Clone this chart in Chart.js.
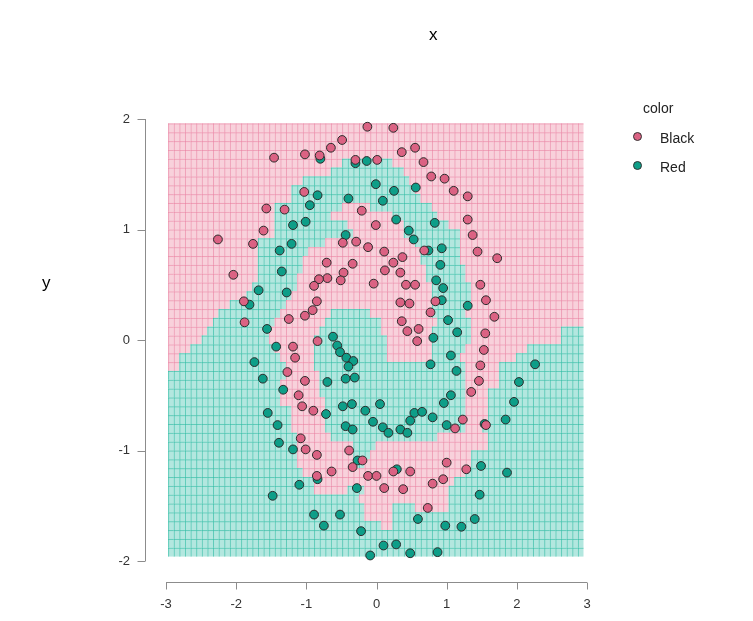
<!DOCTYPE html>
<html>
<head>
<meta charset="utf-8">
<script src="https://cdn.jsdelivr.net/npm/chart.js@4.4.0/dist/chart.umd.min.js"></script>
<style>
body { margin: 0; background: #fff; font-family: "Liberation Sans", Arial, sans-serif; }
#wrap { position: relative; width: 753px; height: 621px; }
#myChart { position: absolute; left: 0; top: 0; }
.txt { position: absolute; line-height: 1; color: #000; white-space: nowrap; }
.dot { position: absolute; width: 7px; height: 7px; border-radius: 50%; border: 1px solid #333; box-sizing: content-box; }
</style>
</head>
<body>
<div id="wrap">
	<canvas id="myChart" width="753" height="621"></canvas>
	<div class="txt" style="left:429px;top:26px;font-size:17px">x</div>
	<div class="txt" style="left:42px;top:274px;font-size:17px">y</div>
	<div class="txt" style="left:643px;top:101px;font-size:14px;color:#222">color</div>
	<div class="dot" style="left:633px;top:132px;background:#DB6283"></div>
	<div class="txt" style="left:660px;top:131px;font-size:14px;color:#222">Black</div>
	<div class="dot" style="left:633px;top:161px;background:#0E9E88"></div>
	<div class="txt" style="left:660px;top:160px;font-size:14px;color:#222">Red</div>
</div>
<script>
// points
var blackX = [-1.46,-1.02,-1.03,-1.57,-1.31,-1.61,-2.26,-1.76,-2.04,-1.89,-1.88,-1.25,-1.02,-1.19,-1.16,-1.27,-1.02,-1.11,-1.06,-1.08,-1.01,
	-0.13,0.24,-0.49,-0.65,-0.81,0.36,0.55,-0.30,0.01,0.67,0.78,0.97,-0.21,-0.01,-0.48,-0.29,-0.12,0.11,0.37,0.24,0.68,-0.71,-0.34,-0.47,0.12,0.34,
	-0.70,-0.82,-0.51,-0.89,-0.04,0.42,0.55,-0.85,0.34,0.47,0.84,-0.91,0.77,0.36,0.44,0.60,0.58,-0.84,-0.90,-0.85,-0.39,-0.20,-0.34,-0.64,-0.85,
	-0.12,0.00,0.24,0.48,0.11,0.38,0.80,0.95,1.00,0.73,1.10,1.30,1.30,1.37,1.44,1.72,1.48,1.56,1.68,1.55,1.53,1.48,1.46,1.35,1.23,1.12,1.56,1.28];
var blackY = [1.65,1.68,1.34,1.19,1.18,0.99,0.91,0.87,0.59,0.35,0.16,0.19,0.22,-0.06,-0.16,-0.29,-0.37,-0.50,-0.60,-0.89,-0.99,
	1.93,1.92,1.81,1.74,1.67,1.70,1.74,1.63,1.63,1.61,1.48,1.46,1.17,1.04,0.88,0.89,0.84,0.80,0.75,0.70,0.81,0.70,0.69,0.61,0.63,0.61,
	0.56,0.55,0.54,0.49,0.51,0.50,0.50,0.35,0.34,0.33,0.35,0.27,0.25,0.17,0.08,0.10,-0.01,-0.01,-0.64,-1.04,-1.00,-1.09,-1.15,-1.19,-1.23,
	-1.23,-1.23,-1.19,-1.19,-1.34,-1.35,-1.30,-1.26,-1.11,-1.52,1.35,1.30,1.09,0.95,0.80,0.74,0.50,0.36,0.21,0.06,-0.09,-0.23,-0.37,-0.47,-0.72,-0.80,-0.77,-1.17];

var redX = [-0.95,-1.01,-1.19,-1.21,-1.38,-1.35,-1.68,-1.28,-1.81,-1.56,-1.43,-1.74,-1.62,-1.33,-1.55,-1.41,-1.39,-1.19,-1.10,-1.48,
	-0.80,-0.30,-0.14,-0.01,0.25,0.56,-0.84,-0.40,0.09,0.28,0.83,-0.44,0.46,0.53,0.74,0.93,0.91,0.85,0.95,0.93,1.02,0.81,-0.62,-0.56,-0.52,
	-0.43,-0.33,-0.40,-0.44,-0.31,-0.70,0.77,-0.48,-0.35,0.05,-0.16,-0.72,0.96,0.54,0.65,0.48,0.80,-0.05,-0.44,-0.34,0.09,0.17,0.34,0.44,1.00,
	-0.27,0.29,-0.84,-0.28,-0.89,-0.52,-0.75,-0.22,0.59,0.98,0.10,0.28,-0.09,0.48,0.87,
	1.30,1.15,1.06,1.14,1.06,1.54,1.84,1.96,2.03,2.26,1.49,1.86,1.47,1.40,1.21];
var redY = [1.22,1.07,1.04,0.87,0.81,0.62,0.45,0.43,0.32,0.10,-0.06,-0.20,-0.35,-0.45,-0.66,-0.77,-0.93,-0.99,-1.31,-1.41,
	1.64,1.60,1.62,1.41,1.35,1.38,1.31,1.28,1.26,1.09,1.06,0.95,0.99,0.91,0.81,0.83,0.68,0.54,0.47,0.36,0.18,0.02,0.03,-0.05,-0.11,
	-0.16,-0.19,-0.24,-0.35,-0.34,-0.38,-0.22,-0.60,-0.58,-0.58,-0.64,-0.67,-0.57,-0.66,-0.65,-0.73,-0.70,-0.74,-0.78,-0.81,-0.79,-0.84,-0.81,-0.84,-0.77,
	-1.09,-1.17,-1.26,-1.34,-1.58,-1.58,-1.68,-1.73,-1.62,-1.68,-1.86,-1.85,-1.95,-1.93,-1.92,
	0.31,0.07,-0.14,-0.28,-0.50,-0.76,-0.72,-0.56,-0.38,-0.22,-1.14,-1.20,-1.40,-1.62,-1.69];

var xTicks = [-3, -2, -1, 0, 1, 2, 3];
var yTicks = [-2, -1, 0, 1, 2];

// background grid: 74 columns x 49 rows, teal column runs for each row (top row first)
var gridX0 = -2.97, gridY0 = 1.96, gridStep = 0.08, gridCols = 74;
var tealRuns = [
	[], [], [], [],
	[[31,39]],
	[[29,41]],
	[[24,42]],
	[[22,43]],
	[[22,44]],
	[[19,30],[36,46]],
	[[19,28],[40,47]],
	[[19,31],[42,49]],
	[[19,32],[42,51]],
	[[16,27],[44,51]],
	[[16,24],[45,51]],
	[[16,23],[45,51]],
	[[16,23],[46,52]],
	[[16,22],[46,52]],
	[[15,22],[47,53]],
	[[14,21],[47,53]],
	[[11,20],[47,53]],
	[[9,19],[29,35],[47,52]],
	[[8,18],[28,37],[48,53]],
	[[7,17],[27,37],[47,53],[70,73]],
	[[6,17],[26,38],[47,53],[70,73]],
	[[4,18],[26,38],[47,52],[64,73]],
	[[2,19],[26,38],[47,51],[62,73]],
	[[2,20],[26,52],[59,73]],
	[[0,20],[27,52],[59,73]],
	[[0,19],[27,52],[59,73]],
	[[0,19],[27,52],[57,73]],
	[[0,19],[28,52],[57,73]],
	[[0,21],[28,52],[57,73]],
	[[0,21],[28,52],[57,73]],
	[[0,21],[28,52],[56,73]],
	[[0,22],[29,47],[57,73]],
	[[0,22],[33,36],[57,73]],
	[[0,22],[33,35],[54,73]],
	[[0,22],[33,34],[54,73]],
	[[0,23],[53,73]],
	[[0,25],[51,73]],
	[[0,25],[32,34],[50,73]],
	[[0,33],[50,73]],
	[[0,34],[40,43],[50,73]],
	[[0,34],[40,73]],
	[[0,37],[40,73]],
	[[0,73]], [[0,73]], [[0,73]]
];

function isTeal(r, c) {
	var runs = tealRuns[r];
	for (var i = 0; i < runs.length; i++) {
		if (c >= runs[i][0] && c <= runs[i][1]) return true;
	}
	return false;
}

function toPoints(xs, ys) {
	return xs.map(function (x, i) { return { x: x, y: ys[i] }; });
}

var bgPlugin = {
	id: 'bgGrid',
	beforeDatasetsDraw: function (chart) {
		var c2 = chart.ctx, xs = chart.scales.x, ys = chart.scales.y;
		c2.save();
		for (var r = 0; r < tealRuns.length; r++) {
			var top = ys.getPixelForValue(gridY0 - r * gridStep);
			var bot = ys.getPixelForValue(gridY0 - (r + 1) * gridStep);
			for (var c = 0; c < gridCols; c++) {
				var left = xs.getPixelForValue(gridX0 + c * gridStep);
				var right = xs.getPixelForValue(gridX0 + (c + 1) * gridStep);
				var t = isTeal(r, c);
				c2.fillStyle = t ? '#B3E7DF' : '#F8D1DB';
				c2.fillRect(left, top, right - left, bot - top);
				c2.fillStyle = t ? 'rgba(40,185,160,0.6)' : 'rgba(232,120,155,0.55)';
				c2.fillRect(left, top, 1, bot - top);
				c2.fillRect(left, top, right - left, 1);
			}
		}
		c2.restore();
	},
	afterDraw: function (chart) {
		var c2 = chart.ctx, xs = chart.scales.x, ys = chart.scales.y;
		var area = chart.chartArea;
		var ax = Math.round(area.left - 21) + 0.5;
		var ay = Math.round(area.bottom + 21) + 0.5;
		c2.save();
		c2.strokeStyle = '#8c8c8c';
		c2.lineWidth = 1;
		c2.beginPath();
		c2.moveTo(ax, ys.getPixelForValue(yTicks[0]));
		c2.lineTo(ax, ys.getPixelForValue(yTicks[yTicks.length - 1]));
		yTicks.forEach(function (v) {
			var p = Math.round(ys.getPixelForValue(v)) + 0.5;
			c2.moveTo(ax - 8, p);
			c2.lineTo(ax, p);
		});
		c2.moveTo(xs.getPixelForValue(xTicks[0]), ay);
		c2.lineTo(xs.getPixelForValue(xTicks[xTicks.length - 1]), ay);
		xTicks.forEach(function (v) {
			var p = Math.round(xs.getPixelForValue(v)) + 0.5;
			c2.moveTo(p, ay);
			c2.lineTo(p, ay + 7);
		});
		c2.stroke();
		c2.restore();
	}
};

var ctx = document.getElementById('myChart').getContext('2d');
var myChart = new Chart(ctx, {
	type: 'scatter',
	data: {
		datasets: [{
			label: 'Black',
			data: toPoints(blackX, blackY),
			backgroundColor: '#DB6283',
			borderColor: '#2b2b2b',
			borderWidth: 1,
			pointRadius: 4.4
		}, {
			label: 'Red',
			data: toPoints(redX, redY),
			backgroundColor: '#0E9E88',
			borderColor: '#2b2b2b',
			borderWidth: 1,
			pointRadius: 4.4
		}]
	},
	options: {
		responsive: false,
		animation: false,
		layout: { padding: { top: 119, right: 166, left: 0, bottom: 0 } },
		plugins: { legend: { display: false }, tooltip: { enabled: false } },
		scales: {
			x: {
				type: 'linear', min: -3, max: 3,
				afterBuildTicks: function (s) { s.ticks = xTicks.map(function (v) { return { value: v }; }); },
				afterFit: function (s) { s.height = 60; },
				grid: { display: false, drawTicks: false },
				border: { display: false },
				ticks: { padding: 36, color: '#333', font: { size: 13, family: 'Liberation Sans' } }
			},
			y: {
				type: 'linear', min: -2, max: 2,
				afterBuildTicks: function (s) { s.ticks = yTicks.map(function (v) { return { value: v }; }); },
				afterFit: function (s) { s.width = 166; },
				grid: { display: false, drawTicks: false },
				border: { display: false },
				ticks: { padding: 36, color: '#333', font: { size: 13, family: 'Liberation Sans' } }
			}
		}
	},
	plugins: [bgPlugin]
});
</script>
</body>
</html>
